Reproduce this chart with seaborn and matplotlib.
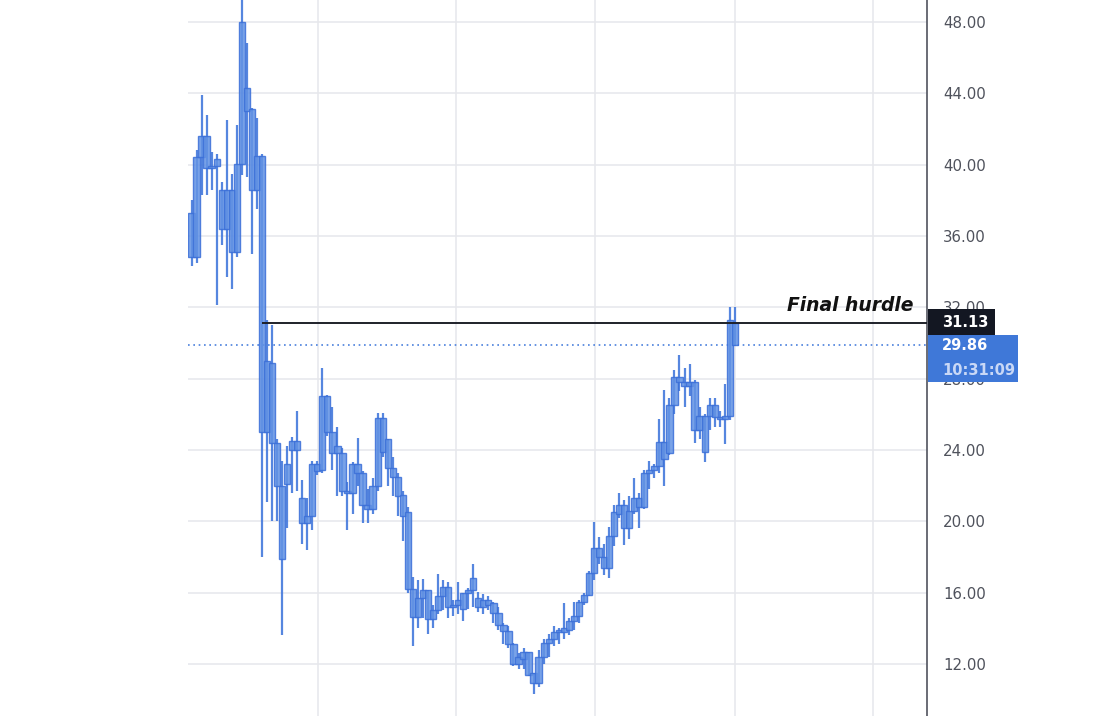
import numpy as np
import pandas as pd
import matplotlib
matplotlib.use("Agg")
import matplotlib.pyplot as plt
import matplotlib.transforms as mtransforms
from matplotlib.patches import Rectangle
import seaborn as sns

# -------------------------------
# Dados (velas diarias)
# -------------------------------
opens = [37.3, 34.8, 40.4, 41.6, 39.8, 39.9, 38.6, 36.4, 38.6, 35.1,
         40.05, 44.3, 43.1, 38.6, 40.5, 25.0, 28.9, 24.4, 22.0, 22.1,
         24.0, 24.5, 21.3, 19.9, 20.3, 23.2, 22.9, 27.0, 25.0, 23.8,
         23.8, 21.7, 21.6, 23.2, 22.7, 20.9, 20.7, 22.0, 25.8, 24.6,
         23.0, 22.5, 21.5, 20.5, 16.2, 14.65, 15.7, 16.15, 14.5, 15.05,
         15.8, 16.3, 15.2, 15.3, 15.1, 15.96, 16.15, 15.7, 15.2, 15.6,
         15.4, 14.85, 14.2, 13.85, 13.1, 12.0, 12.3, 12.65, 11.5, 10.95,
         12.4, 13.2, 13.4, 13.8, 13.8, 13.9, 14.4, 14.7, 15.5, 15.85,
         17.1, 18.5, 18.0, 17.4, 19.2, 20.4, 20.9, 19.6, 20.6, 21.3,
         20.8, 22.7, 22.9, 23.1, 24.45, 23.8, 26.5, 28.1, 27.8, 27.6,
         27.8, 25.1, 25.9, 25.9, 26.5, 25.85, 25.75, 25.9, 31.1]
highs = [38.0, 40.8, 43.9, 42.8, 40.7, 40.6, 39.0, 42.5, 39.5, 42.2,
         49.5, 46.8, 43.2, 42.6, 40.6, 31.3, 31.0, 24.6, 23.4, 24.2,
         24.7, 26.2, 22.3, 21.3, 23.4, 23.4, 28.6, 27.1, 26.4, 25.3,
         24.1, 22.2, 23.3, 24.65, 22.8, 21.8, 22.4, 26.05, 26.05, 24.6,
         23.6, 22.7, 21.7, 20.8, 16.9, 16.7, 16.75, 16.15, 15.3, 17.07,
         16.7, 16.6, 15.6, 16.6, 16.0, 16.25, 17.6, 16.05, 15.9, 15.8,
         15.5, 15.2, 14.3, 14.15, 13.2, 12.6, 12.9, 12.65, 11.5, 12.8,
         13.4, 13.7, 14.1, 14.0, 15.4, 14.6, 15.5, 15.6, 15.95, 17.2,
         19.96, 19.1, 18.7, 19.7, 20.9, 21.6, 21.2, 21.4, 22.4, 21.6,
         22.9, 23.4, 23.2, 25.75, 27.35, 26.9, 28.5, 29.3, 28.6, 28.8,
         27.9, 26.4, 26.0, 26.9, 26.9, 26.2, 27.7, 32.0, 32.0]
lows = [34.3, 34.5, 38.3, 38.3, 38.6, 32.1, 35.5, 33.7, 33.0, 34.8,
        39.4, 39.3, 35.0, 37.5, 18.0, 21.1, 20.0, 20.0, 13.6, 19.6,
        21.6, 21.7, 18.75, 18.4, 19.5, 22.6, 22.7, 24.8, 22.9, 21.4,
        21.4, 19.5, 20.4, 22.0, 19.9, 19.9, 20.4, 21.7, 23.6, 22.0,
        21.4, 20.3, 18.9, 16.0, 13.0, 14.0, 14.6, 13.7, 14.0, 14.8,
        15.0, 14.6, 14.7, 14.8, 14.4, 15.1, 15.2, 14.9, 14.8, 15.0,
        14.3, 13.9, 13.1, 12.9, 11.9, 11.7, 11.7, 11.3, 10.3, 10.7,
        12.0, 12.4, 13.0, 13.1, 13.4, 13.6, 13.9, 14.3, 15.3, 15.8,
        16.7, 17.6, 17.0, 16.8, 18.6, 20.2, 18.65, 19.0, 20.4, 19.6,
        20.7, 21.8, 22.4, 22.7, 22.0, 23.7, 26.0, 27.3, 26.4, 27.0,
        24.4, 24.6, 23.3, 25.1, 25.3, 25.3, 24.35, 25.7, 29.8]
closes = [34.8, 40.4, 41.6, 39.8, 39.9, 40.3, 36.4, 38.6, 35.1, 40.05,
          48.0, 43.0, 38.6, 40.5, 25.0, 29.0, 24.4, 22.0, 17.9, 23.2,
          24.5, 24.0, 19.9, 20.3, 23.2, 22.8, 27.0, 25.0, 23.8, 24.2,
          21.7, 21.6, 23.2, 22.7, 20.9, 20.7, 22.0, 25.8, 23.9, 23.0,
          22.5, 21.4, 20.3, 16.2, 14.65, 15.7, 16.15, 14.5, 15.0, 15.8,
          16.3, 15.2, 15.3, 15.6, 15.96, 16.15, 16.8, 15.2, 15.6, 15.3,
          14.85, 14.2, 13.85, 13.1, 12.0, 12.4, 12.65, 11.4, 10.95, 12.4,
          13.2, 13.4, 13.8, 13.9, 14.0, 14.4, 14.7, 15.5, 15.85, 17.1,
          18.5, 18.0, 17.4, 19.2, 20.5, 20.9, 19.6, 20.6, 21.3, 20.8,
          22.7, 22.9, 23.1, 24.45, 23.5, 26.5, 28.1, 27.8, 27.6, 27.8,
          25.1, 25.9, 23.9, 26.5, 25.85, 25.75, 25.9, 31.27, 29.86]

price_ticks = [12, 16, 20, 24, 28, 32, 36, 40, 44, 48]
hurdle_price = 31.13
hurdle_start = 14          # vela onde a linha comeca
last_price = 29.86
last_time = "10:31:09"
hurdle_label = "Final hurdle"

df = pd.DataFrame({"open": opens, "high": highs, "low": lows, "close": closes})
df["idx"] = np.arange(len(df))
df["body_low"] = df[["open", "close"]].min(axis=1)
df["body_h"] = (df["open"] - df["close"]).abs().clip(lower=0.08)

# -------------------------------
# Estilo
# -------------------------------
sns.set_theme(style="white")
plt.rcParams["font.family"] = ["DejaVu Sans"]

fill_blue = "#6393e4"
edge_blue = "#3b6fd8"
grid_col = "#e6e7ec"
text_col = "#4f525c"

fig = plt.figure(figsize=(10.98, 7.16), dpi=100)
ax = fig.add_axes([188 / 1098, 0.0, (927 - 188) / 1098, 1.0])

# grade
ax.set_axisbelow(True)
ax.set_xticks([25.1, 52.6, 80.2, 108.0, 135.5])
ax.set_yticks(price_ticks)
ax.grid(True, color=grid_col, linewidth=1.1)

# pavios e corpos
ax.vlines(df["idx"], df["low"], df["high"], color="#4479dc", linewidth=1.6, alpha=0.9, zorder=2)
ax.bar(df["idx"], df["body_h"], bottom=df["body_low"], width=1.25,
       color=fill_blue, alpha=0.85, edgecolor=edge_blue, linewidth=1.0, zorder=3)

ax.set_xlim(-0.7, 146.2)
ax.set_ylim(9.08, 49.23)

# linha do "Final hurdle" e preco atual
ax.hlines(hurdle_price, hurdle_start, 146.2, color="#1e2129", linewidth=1.4, zorder=4)
ax.axhline(last_price, color="#4a80dd", linewidth=1.2, linestyle=(0, (1, 2.2)), zorder=1)
ax.text(143.5, 31.55, hurdle_label, ha="right", va="bottom", fontsize=13.5,
        fontweight="bold", fontstyle="italic", color="#111111", zorder=6)

# eixos
ax.yaxis.tick_right()
ax.set_yticklabels([f"{v:.2f}" for v in price_ticks])
ax.tick_params(axis="y", length=0, pad=11.5, labelsize=10.8, labelcolor=text_col)
ax.tick_params(axis="x", length=0, labelbottom=False)
for side in ["top", "left", "bottom"]:
    ax.spines[side].set_visible(False)
ax.spines["right"].set_color("#50535e")
ax.spines["right"].set_linewidth(1.2)

# etiquetas de preco na escala
trans = mtransforms.blended_transform_factory(ax.transAxes, ax.transData)
box_x0 = 1.0015
ax.add_patch(Rectangle((box_x0, 30.45), 0.091, 1.45, transform=trans,
                       facecolor="#131722", edgecolor="none", clip_on=False, zorder=5))
ax.add_patch(Rectangle((box_x0, 27.81), 0.121, 2.64, transform=trans,
                       facecolor="#3f78d8", edgecolor="none", clip_on=False, zorder=5))
ax.text(1.0205, 31.16, f"{hurdle_price:.2f}", transform=trans, ha="left", va="center",
        fontsize=10.5, fontweight="bold", color="white", clip_on=False, zorder=6)
ax.text(1.0205, 29.83, f"{last_price:.2f}", transform=trans, ha="left", va="center",
        fontsize=10.5, fontweight="bold", color="white", clip_on=False, zorder=6)
ax.text(1.0205, 28.47, last_time, transform=trans, ha="left", va="center",
        fontsize=10.5, fontweight="bold", color="#c9d8f6", clip_on=False, zorder=6)

fig.savefig("out.png", dpi=100, facecolor="white")
